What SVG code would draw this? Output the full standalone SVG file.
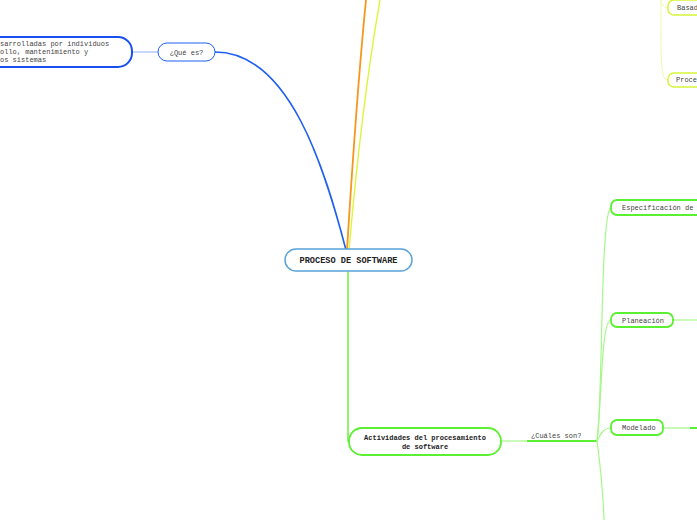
<svg xmlns="http://www.w3.org/2000/svg" width="697" height="520" viewBox="0 0 697 520">
<style>
.t{font-family:"Liberation Mono","DejaVu Sans Mono",monospace;font-size:7px;fill:#444}
.b{font-weight:bold;fill:#222}
.gn{fill:#fff;stroke:#5cf032;stroke-width:1.8}
.yn{fill:#fff;stroke:#d7f53a;stroke-width:1.5}
.gl{fill:none;stroke:#a6f78a;stroke-width:1.2}
</style>
<rect width="697" height="520" fill="#fff"/>
<g id="connectors" fill="none">
<path d="M346,250 C325,170 290,52 215,52" stroke="#1f5ff0" stroke-width="1.6"/>
<path d="M158,52 L132,52" stroke="#8fb0f7" stroke-width="1"/>
<path d="M347,250 C352,170 358,80 366,0" stroke="#f7961e" stroke-width="1.8"/>
<path d="M349,250 C356,170 366,80 380,0" stroke="#dcf53a" stroke-width="1.4"/>
<path d="M661,0 C661,60 660,80 668,80" stroke="#ecfab0" stroke-width="1"/>
<path d="M661,0 C662,6 664,8 668,8" stroke="#ecfab0" stroke-width="1"/>
<path d="M348,271 L348,441 C348,441 349,441 350,441" stroke="#5cf032" stroke-width="1.4"/>
<path d="M501,441 L527,441" stroke="#a6f78a" stroke-width="1.2"/>
<path d="M527,441 L597,441" stroke="#5cf032" stroke-width="2"/>
<path class="gl" d="M597,441 C603,400 600,215 611,207"/>
<path class="gl" d="M597,441 C602,400 601,320 611,320"/>
<path class="gl" d="M597,441 C601,433 604,428 611,428"/>
<path class="gl" d="M597,441 C601,470 603,490 604,520"/>
<path class="gl" d="M673,320 L697,320"/>
<path class="gl" d="M663,428 L690,428"/>
<path d="M690,428 L697,428" stroke="#5cf032" stroke-width="2"/>
</g>
<g id="n-center">
<rect x="285" y="249" width="127" height="22" rx="11" fill="#fff" stroke="#5aa3d9" stroke-width="1.5"/>
<text class="t b" x="348.5" y="263" text-anchor="middle" style="font-size:8.6px">PROCESO DE SOFTWARE</text>
</g>
<g id="n-quees">
<rect x="158" y="43" width="57" height="18" rx="9" fill="#fff" stroke="#1f5ff0" stroke-width="1"/>
<text class="t" x="186.5" y="54.5" text-anchor="middle">¿Qué es?</text>
</g>
<g id="n-def">
<rect x="-20" y="37" width="152" height="30" rx="14" fill="#fff" stroke="#1a4ff0" stroke-width="2"/>
<text class="t" x="0" y="46">sarrolladas por individuos</text>
<text class="t" x="0" y="54">ollo, mantenimiento y</text>
<text class="t" x="0" y="62">os sistemas</text>
</g>
<g id="n-basad">
<rect x="668" y="0" width="60" height="15" rx="6" class="yn"/>
<text class="t" x="677" y="9.5">Basad</text>
</g>
<g id="n-proces">
<rect x="668" y="73" width="60" height="14" rx="6" class="yn"/>
<text class="t" x="676" y="82">Proces</text>
</g>
<g id="n-actividades">
<rect x="349" y="428" width="152" height="27" rx="13" class="gn"/>
<text class="t b" x="425" y="440" text-anchor="middle">Actividades del procesamiento</text>
<text class="t b" x="425" y="448.5" text-anchor="middle">de software</text>
</g>
<g id="n-cuales">
<text class="t" x="531" y="437.5">¿Cuáles son?</text>
</g>
<g id="n-especificacion">
<rect x="611" y="200" width="110" height="15" rx="6" class="gn"/>
<text class="t" x="622" y="210">Especificación de</text>
</g>
<g id="n-planeacion">
<rect x="611" y="313" width="62" height="14" rx="6" class="gn"/>
<text class="t" x="622" y="322.5">Planeación</text>
</g>
<g id="n-modelado">
<rect x="611" y="420" width="52" height="15" rx="6" class="gn"/>
<text class="t" x="622" y="430">Modelado</text>
</g>
</svg>
